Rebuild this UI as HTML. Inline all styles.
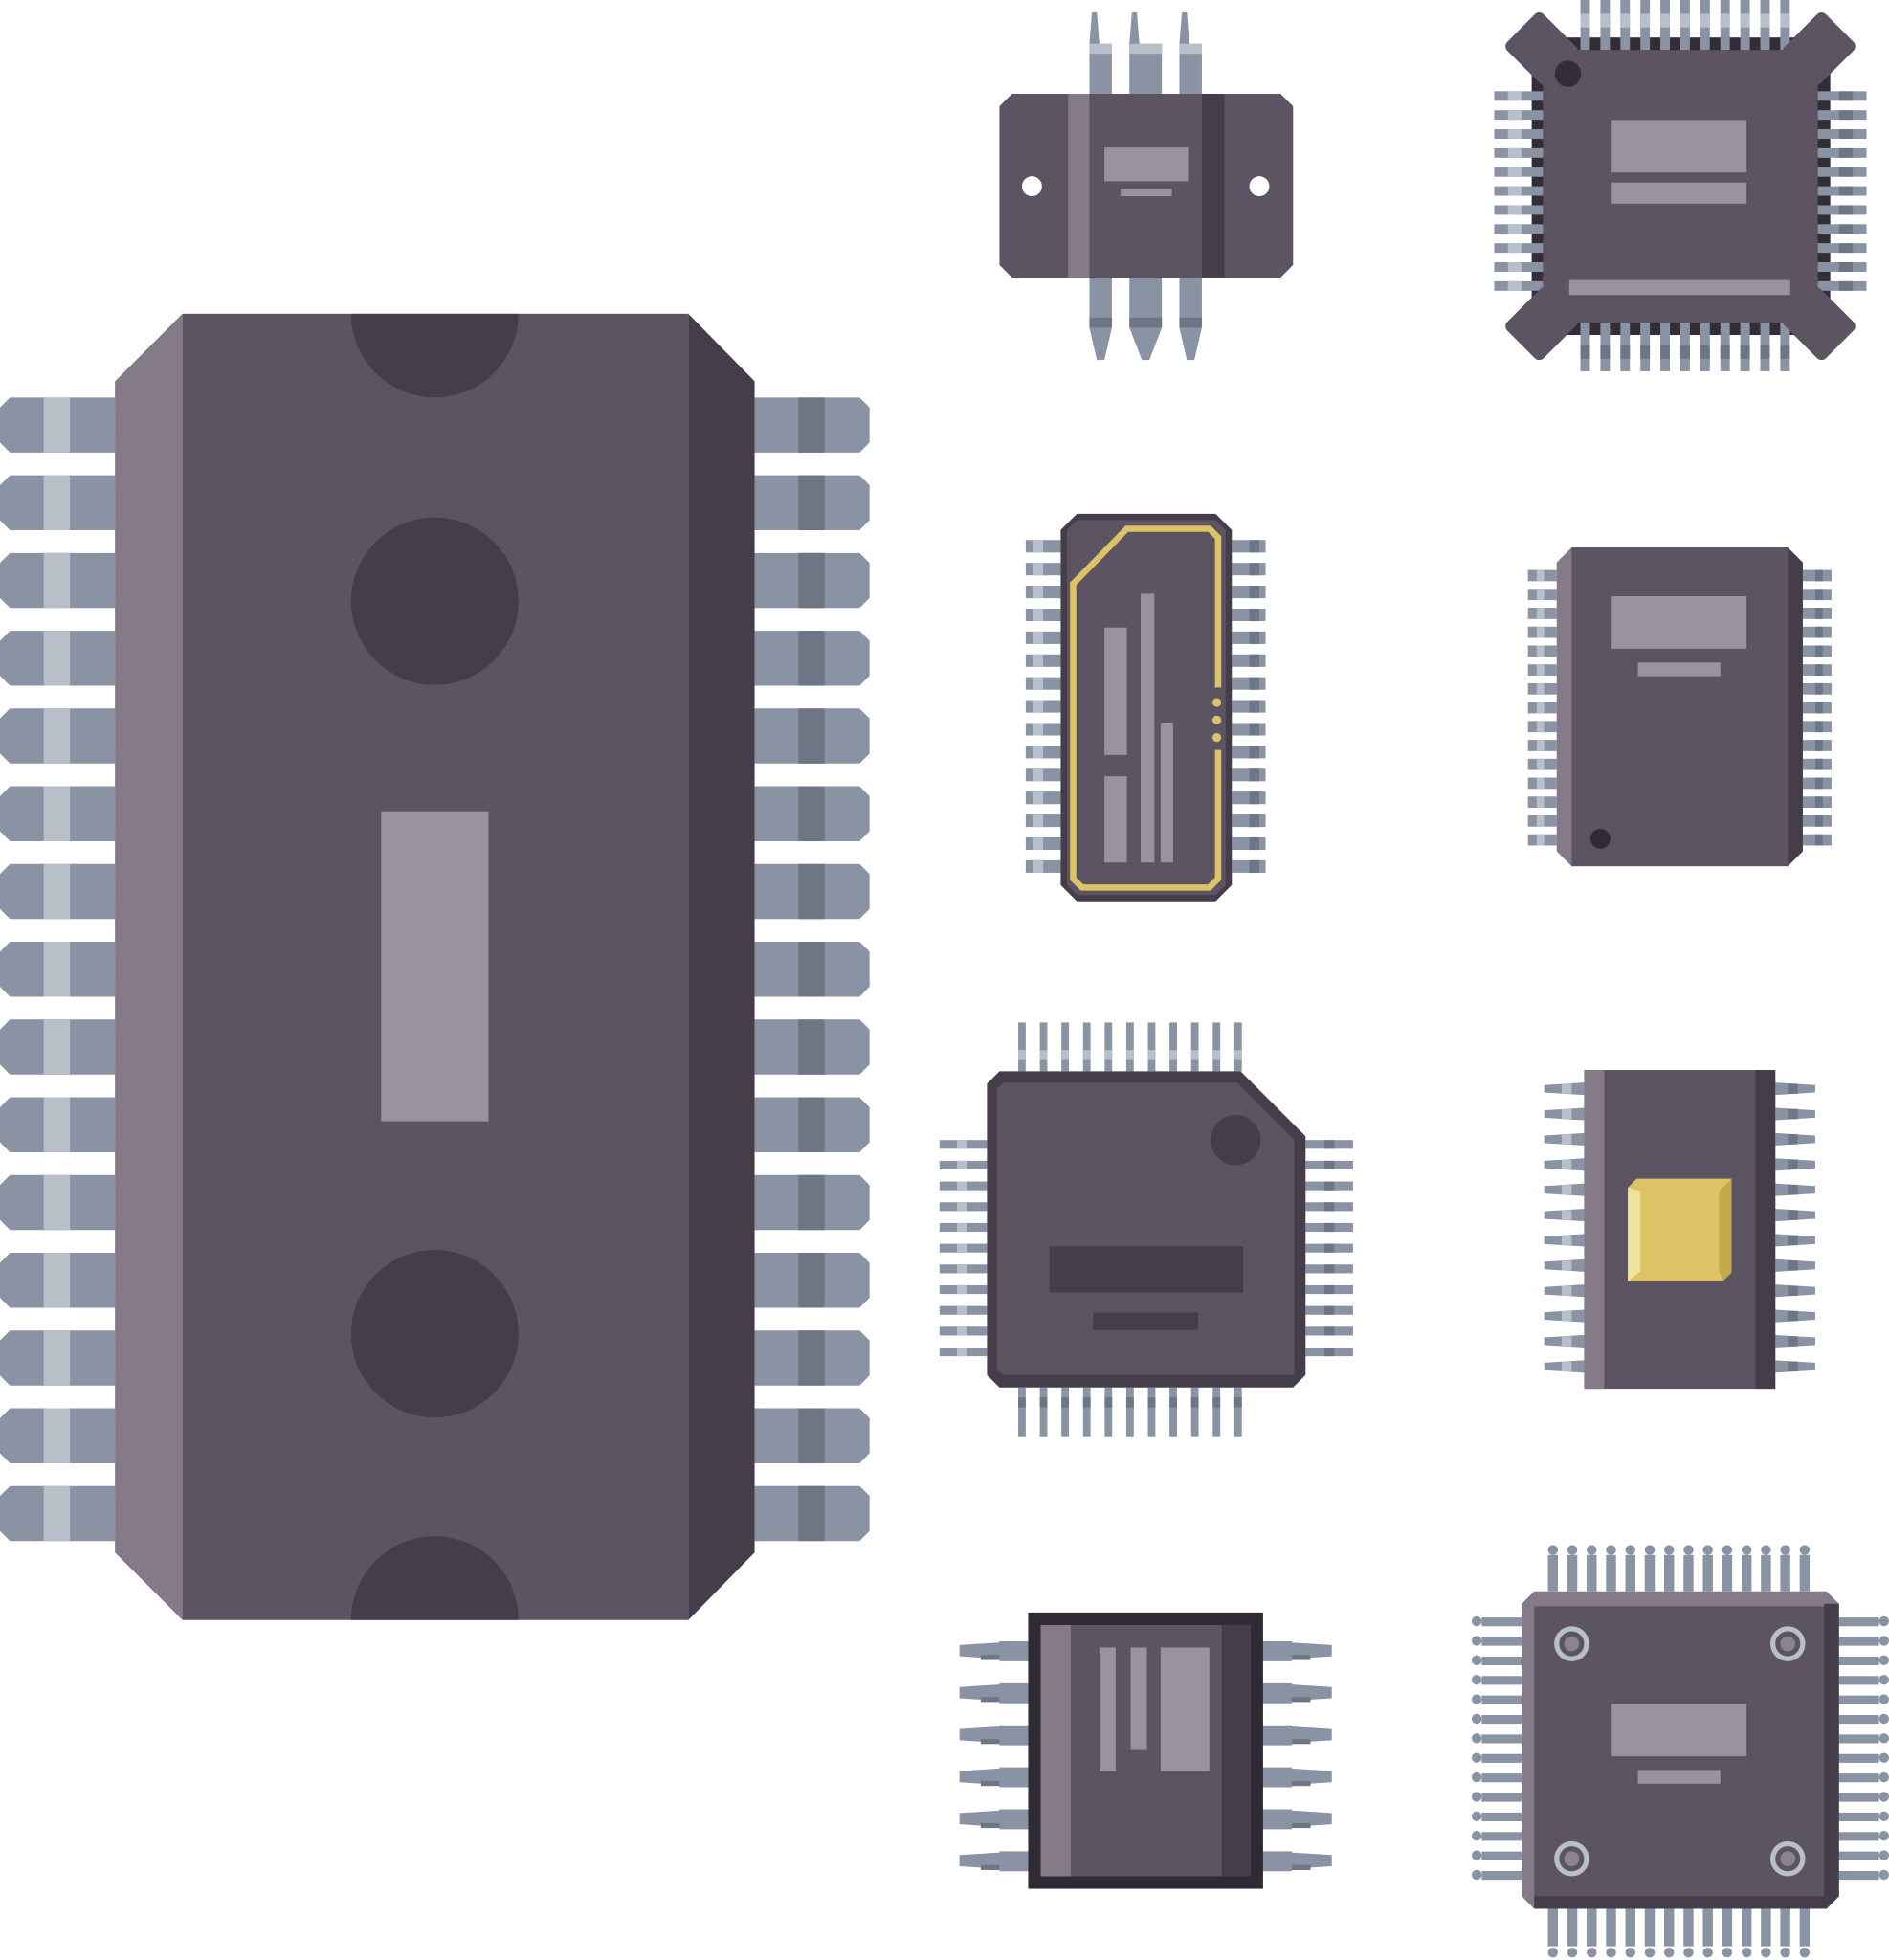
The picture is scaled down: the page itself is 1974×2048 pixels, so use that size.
<!DOCTYPE html>
<html><head><meta charset="utf-8"><style>html,body{margin:0;padding:0;background:#fff}svg{display:block}</style></head>
<body>
<svg id="s" xmlns="http://www.w3.org/2000/svg" width="1974" height="2048" viewBox="0 0 1512 1568" preserveAspectRatio="none">
</svg>
<script>
const B='#5c5363',D='#453d4a',L='#857b88',P='#8a93a3',PL='#b8bfc8',PD='#6e7585',LB='#9a929d',G='#dcc466';
let h='';
const r=(x,y,w,hh,c)=>h+=`<rect x="${x}" y="${y}" width="${w}" height="${hh}" fill="${c}"/>`;
const pg=(pts,c)=>h+=`<polygon points="${pts}" fill="${c}"/>`;
const ci=(x,y,rr,c)=>h+=`<circle cx="${x}" cy="${y}" r="${rr}" fill="${c}"/>`;
// Big chip pins
for(let i=0;i<15;i++){let y=318+i*62.2;
 pg(`8,${y} 92,${y} 92,${y+44} 8,${y+44} 0,${y+36} 0,${y+8}`,P);r(35,y,21,44,PL);
 pg(`604,${y} 688,${y} 696,${y+8} 696,${y+36} 688,${y+44} 604,${y+44}`,P);r(639,y,21,44,PD);}
pg('146,251 92,305 92,1242 146,1296',L);
r(146,251,405,1045,B);
pg('551,251 604,305 604,1242 551,1296',D);
h+=`<path d="M281,251 A67,67 0 0 0 415,251 Z" fill="${D}"/><path d="M281,1296 A67,67 0 0 1 415,1296 Z" fill="${D}"/>`;
ci(348,481,67,D);ci(348,1067,67,D);r(305,649,86,248,LB);
// top chip 1
[[872,18],[904,26],[944,18]].forEach(([x,w])=>{pg(`${x+2},10 ${x+6},10 ${x+8},35 ${x+w},35 ${x+w},75 ${x},75 ${x},35`,P);
 pg(`${x},222 ${x+w},222 ${x+w},262 ${x+w/2+3},288 ${x+w/2-3},288 ${x},262`,P);r(x,35,w,8,PL);r(x,254,w,8,PD);});
pg('810,75 1025,75 1035,85 1035,212 1025,222 810,222 800,212 800,85',B);
r(855,75,17,147,L);r(962,75,18,147,D);ci(826,149,8,'#fff');ci(1008,149,8,'#fff');
r(884,118,67,27,LB);r(897,151,41,6,LB);
// top right chip
r(1226,30,239,238,'#332d38');
for(let i=0;i<11;i++){let x=1265+i*16;r(x,0,7.6,40,P);r(x,11,7.6,11,PL);r(x,258,7.6,39,P);r(x,276,7.6,11,PD);}
for(let i=0;i<11;i++){let y=73+i*15.2;r(1196,y,40,7.6,P);r(1207,y,11,7.6,PL);r(1455,y,39,7.6,P);r(1472,y,11,7.6,PD);}
r(1235,40,220,218,B);
[[1232,37,1,1],[1458,37,-1,1],[1232,261,1,-1],[1458,261,-1,-1]].forEach(([x,y,sx,sy])=>{
 h+=`<polygon points="${x-22*sx},${y} ${x},${y-22*sy} ${x+26*sx},${y+4*sy} ${x+4*sx},${y+26*sy}" fill="${B}" stroke="${B}" stroke-width="10" stroke-linejoin="round"/>`;});
ci(1255,59,10.5,'#332d38');r(1290,96,108,42,LB);r(1290,146,108,17,LB);r(1256,224,177,12,LB);
// gold chip
for(let i=0;i<15;i++){let y=432+i*18.3;r(821,y,28,10,P);r(827,y,8,10,PL);r(986,y,27,10,P);r(1000,y,8,10,PD);}
pg('862,411 973,411 986,424 986,708 973,721 862,721 849,708 849,424',D);
pg('862,416 973,416 981,424 981,708 973,716 862,716 854,708 854,424',B);
h+=`<path d="M975,550 V430 L968,423 H902 L859,467 V703 L866,710 H968 L975,703 V600" fill="none" stroke="${G}" stroke-width="5"/>`;
ci(974,562,3.5,G);ci(974,576,3.5,G);ci(974,590,3.5,G);
r(884,502,18,102,LB);r(884,621,18,69,LB);r(913,475,11,215,LB);r(929,578,10,112,LB);
// middle right chip
for(let i=0;i<15;i++){let y=456+i*15.1;r(1223,y,23,9,P);r(1230,y,6,9,PL);r(1443,y,23,9,P);r(1453,y,6,9,PD);}
pg('1258,438 1431,438 1443,450 1443,681 1431,693 1258,693 1246,681 1246,450',L);
r(1258,438,173,255,B);pg('1431,438 1443,450 1443,681 1431,693',D);
r(1290,477,108,42,LB);r(1311,530,66,11,LB);ci(1281,671,8,'#2f2a33');
// QFP center
for(let i=0;i<11;i++){let x=815+i*17.3;r(x,818,6,39,P);r(x,840,6,8,PL);r(x,1110,6,39,P);r(x,1118,6,8,PD);
 let y=912+i*16.6;r(752,y,38,7,P);r(766,y,8,7,PL);r(1045,y,38,7,P);r(1060,y,8,7,PD);}
pg('800,857 993,857 1045,909 1045,1100 1035,1110 800,1110 790,1100 790,867',D);
pg('803,866 990,866 1036,912 1036,1100 803,1100 798,1096 798,871',B);
ci(989,912,20,D);r(840,997,155,37,D);r(875,1050,84,14,D);
// gold square chip
for(let i=0;i<12;i++){let y=866+i*20.2;pg(`1236,${y+2} 1268,${y} 1268,${y+10} 1236,${y+8}`,P);r(1250,y+1,8,8,PL);
 pg(`1421,${y} 1453,${y+2} 1453,${y+8} 1421,${y+10}`,P);r(1431,y+1,8,8,PD);}
r(1268,856,153,255,B);r(1268,856,16,255,L);r(1405,856,16,255,D);
pg('1303,950 1310,943 1386,943 1386,1018 1379,1025 1303,1025',G);
pg('1303,950 1313,953 1313,1017 1303,1025',"#efe29a");pg('1376,953 1386,943 1386,1018 1379,1025 1376,1017',"#c2a94a");
// bottom center chip
for(let i=0;i<6;i++){let y=1313+i*33.6;
 pg(`768,${y+3} 800,${y+1} 800,${y} 833,${y} 833,${y+16} 800,${y+16} 800,${y+14} 768,${y+12}`,P);r(785,y+11,15,4,PD);
 pg(`1001,${y} 1034,${y} 1034,${y+1} 1066,${y+3} 1066,${y+12} 1034,${y+14} 1034,${y+16} 1001,${y+16}`,P);r(1034,y+11,15,4,PD);}
r(823,1290,188,221,'#2f2a33');r(833,1300,168,201,B);r(833,1300,24,201,L);r(978,1300,23,201,D);
r(880,1318,13,99,LB);r(905,1318,13,82,LB);r(929,1318,39,99,LB);
// bottom right chip
for(let i=0;i<14;i++){let x=1240+i*15.5;r(x-1,1244,8,29,P);ci(x+3,1240,4,P);r(x-1,1527,8,30,P);ci(x+3,1562,4,P);
 let y=1297+i*15.6;r(1186,y-3,32,7,P);ci(1182,y,4,P);r(1472,y-3,32,7,P);ci(1508,y,4,P);}
pg('1228,1273 1462,1273 1472,1283 1472,1517 1462,1527 1228,1527 1218,1517 1218,1283',L);
r(1228,1285,232,232,B);pg('1460,1283 1472,1283 1472,1517 1462,1527 1460,1527',D);r(1228,1517,234,10,D);
[[1258,1315],[1431,1315],[1258,1487],[1431,1487]].forEach(([x,y])=>{ci(x,y,14,'#b8bfc8');ci(x,y,10,B);ci(x,y,6,'#8a8390');});
r(1290,1363,108,42,LB);r(1311,1416,66,11,LB);
document.getElementById('s').innerHTML=h;
</script>
</body></html>
